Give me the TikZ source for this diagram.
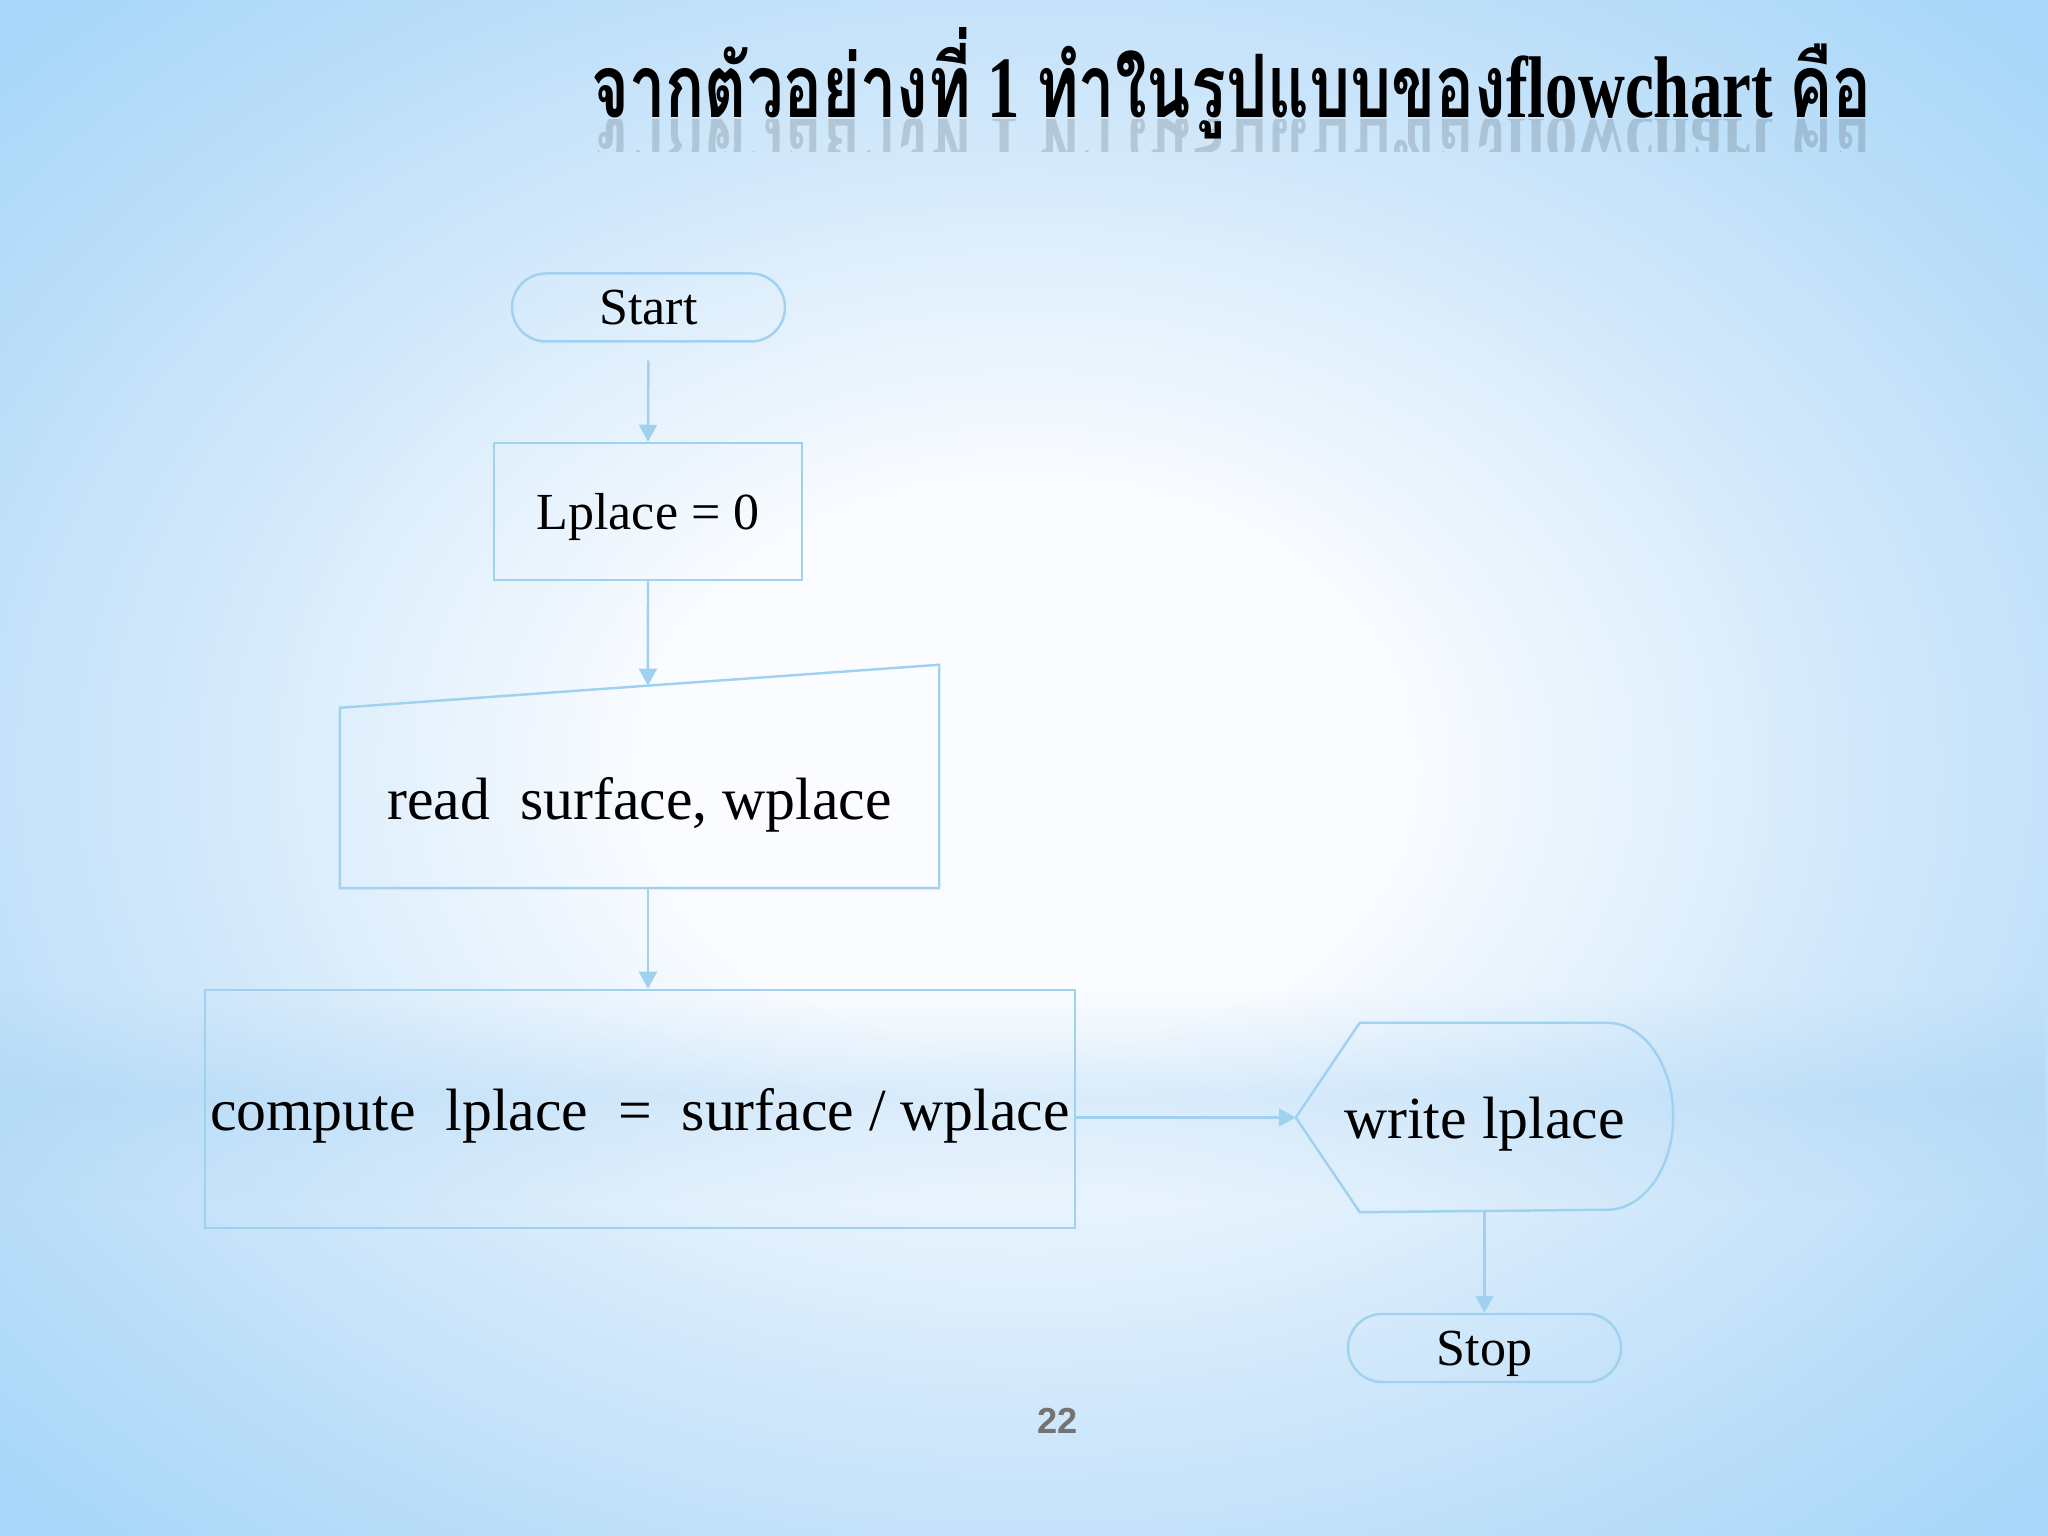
\documentclass[tikz,border=0pt]{standalone}
\usepackage{fontspec}
\setmainfont{Liberation Serif}
\newfontfamily\thaifont[Script=Thai]{Loma}
\newfontfamily\pagefont{Liberation Sans}
\usepackage{tikz}
\usetikzlibrary{shapes.geometric,arrows.meta,calc,positioning,fadings}
\definecolor{flowblue}{RGB}{160,210,240}
\definecolor{bgwhite}{RGB}{250,252,255}
\definecolor{bgmid}{RGB}{205,230,250}
\definecolor{bgedge}{RGB}{168,214,248}
\definecolor{bandblue}{RGB}{160,208,245}
\pgfdeclareradialshading{slidebg}{\pgfpoint{0bp}{0bp}}{color(0bp)=(bgwhite); color(9bp)=(bgwhite); color(22bp)=(bgmid); color(34bp)=(bgedge); color(50bp)=(bgedge)}
\tikzfading[name=bandfade, top color=transparent!100, bottom color=transparent!100, middle color=transparent!30]
\newcommand{\slidetitle}{{\thaifont\bfseries จากตัวอย่างที่} {\bfseries 1} {\thaifont\bfseries ทำในรูปแบบของ}{\bfseries flowchart} {\thaifont\bfseries คือ}}

\begin{document}
\begin{tikzpicture}[line width=0.7pt,
    flowline/.style={draw=flowblue},
    flowarrow/.style={draw=flowblue, -{Triangle[length=1.7mm,width=1.8mm]}},
    bigtext/.style={font=\fontsize{17}{20}\selectfont},
    smalltext/.style={font=\fontsize{14.8}{17}\selectfont}]
   % slide background
   \shade[shading=slidebg] (0,0) rectangle (20.48,15.36);
   \fill[bandblue, path fading=bandfade, opacity=0.45] (0,3.35) rectangle (20.48,5.45);
   \useasboundingbox (0,0) rectangle (20.48,15.36);
   % title
   \node (title) [anchor=base west, inner sep=0] at (5.90,14.18) {\resizebox{12.8cm}{0.9cm}{\slidetitle}};
   \begin{scope}
    \clip (5.8,14.16) rectangle (18.8,13.84);
    \node [anchor=base west, inner sep=0, yscale=-1, transform shape, opacity=0.14] at (5.90,14.18) {\resizebox{12.8cm}{0.9cm}{\slidetitle}};
   \end{scope}
   \begin{scope}[every node/.style={inner sep=0, text=black, text depth=0pt}]
    \node (start) [flowline, smalltext, rounded corners=3.4mm, minimum width=2.73cm, minimum height=0.68cm] at (6.485,12.285) {Start};
    \node (lplace) [flowline, smalltext, minimum width=3.08cm, minimum height=1.37cm] at (6.48,10.245) {Lplace = 0};
    \node (read) [bigtext, minimum width=5.97cm, minimum height=1.78cm] at (6.395,7.38) {read~~surface, wplace};
    \node (compute) [flowline, bigtext, minimum width=8.70cm, minimum height=2.38cm] at (6.40,4.27) {compute~~lplace~~=~~surface / wplace};
    \node (write) [bigtext, minimum width=3.75cm, minimum height=1.87cm] at (14.845,4.185) {write lplace};
    \node (stop) [flowline, smalltext, rounded corners=3.4mm, minimum width=2.73cm, minimum height=0.68cm] at (14.845,1.88) {Stop};
    \node (page) [font=\pagefont\bfseries\fontsize{10.3}{12}\selectfont, text=black!55] at (10.58,1.15) {22};
   \end{scope}
   % manual input and display outlines
   \coordinate (readne) at ([yshift=4.3mm]read.north east);
   \coordinate (readin) at ($(read.north west)!0.514!(readne)$);
   \draw [flowline] (readne) -- (read.north west) -- (read.south west) -- (read.south east) -- cycle;
   \draw [flowline] (write.west) -- ([xshift=6.4mm]write.north west) -- ([xshift=-6.6mm]write.north east)
      arc (90:-90:6.6mm and 9.35mm) -- ([xshift=6.4mm]write.south west) -- cycle;
   % connectors
   \draw [flowarrow, shorten <=1.8mm] (start.south) -- (lplace.north);
   \draw [flowarrow] (lplace.south) -- (readin);
   \draw [flowarrow] (read.south -| lplace.south) -- (compute.north -| lplace.south);
   \draw [flowarrow] (compute.east |- write.west) -- (write.west);
   \draw [flowarrow] (write.south) -- (stop.north);
\end{tikzpicture}
\end{document}
